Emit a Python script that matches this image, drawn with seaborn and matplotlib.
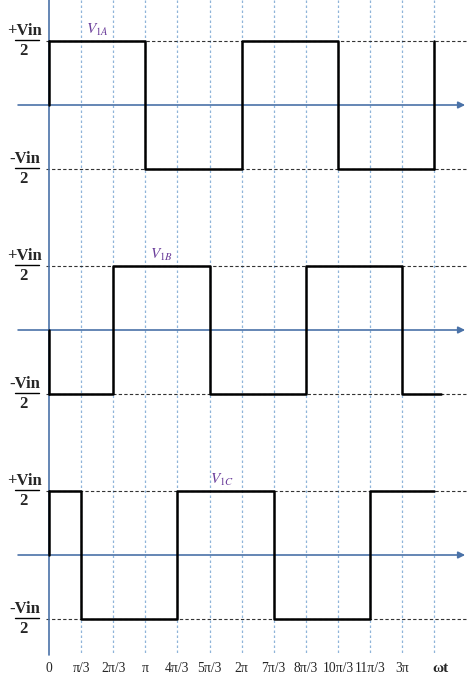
import matplotlib
matplotlib.use("Agg")
import matplotlib.pyplot as plt
import seaborn as sns
import numpy as np
import pandas as pd

sns.set_theme(style="white")
plt.rcParams['font.family'] = ['Liberation Serif', 'DejaVu Serif']
plt.rcParams['mathtext.fontset'] = 'stix'

# step positions in units of pi/3 and levels (+1 = +Vin/2)
edges = [0, 1, 2, 3, 4, 5, 6, 7, 8, 9, 10, 11, 12]
v1a = [1, 1, 1, -1, -1, -1, 1, 1, 1, -1, -1, -1]
v1b = [-1, -1, 1, 1, 1, -1, -1, -1, 1, 1, 1, -1]
v1c = [1, -1, -1, -1, 1, 1, 1, -1, -1, -1, 1, 1]
names = ["$V_{1A}$", "$V_{1B}$", "$V_{1C}$"]
name_x = [1.5, 3.5, 5.4]
tick_labels = ["0", "π/3", "2π/3", "π", "4π/3", "5π/3", "2π", "7π/3",
               "8π/3", "10π/3", "11π/3", "3π"]
extra_label = "ωt"

centers = [105, 330, 555]
amp = 64
unit = 32.1
x0px = 49

fig = plt.figure(figsize=(4.74, 6.90), dpi=100)
ax = fig.add_axes([0, 0, 1, 1])
ax.set_xlim(-x0px / unit, (474 - x0px) / unit)
ax.set_ylim(690, 0)
ax.axis("off")

for e in edges[1:]:
    ax.plot([e, e], [0, 655], ls=(0, (2, 2)), color="#8fb4d9", lw=0.9, zorder=1)
ax.plot([0, 0], [0, 655], color="#4a72a8", lw=1.2, zorder=2)

last_ext = [12.0, 12.2, 12.0]
for wave, c, nm, nx, lx in zip([v1a, v1b, v1c], centers, names, name_x, last_ext):
    ax.plot([-0.1, 13.0], [c - amp, c - amp], ls=(0, (3, 2)), color="#333333", lw=0.8, zorder=1)
    ax.plot([-0.1, 13.0], [c + amp, c + amp], ls=(0, (3, 2)), color="#333333", lw=0.8, zorder=1)
    ax.annotate("", xy=(13.05, c), xytext=(-1.05, c),
                arrowprops=dict(arrowstyle="-|>", color="#4a72a8", lw=1.2, mutation_scale=10), zorder=2)
    xs = list(edges[:-1]) + [lx]
    ys = [c - amp * v for v in wave] + [c - amp * wave[-1]]
    df = pd.DataFrame({"x": xs, "y": ys})
    ax.step(df["x"], df["y"], where="post", color="black", lw=1.8, zorder=3)
    ax.plot([0, 0], [c, ys[0]], color="black", lw=1.8, zorder=3)
    if nm == "$V_{1A}$":
        ax.plot([12, 12], [c - amp, c + amp], color="black", lw=1.8, zorder=3)
    ax.text(nx, c - amp - 3, nm, color="#6a3d9a", fontsize=11, ha="center", va="bottom")
    for sgn, yy in [("+Vin", c - amp), ("-Vin", c + amp)]:
        ax.text(-0.75, yy - 2, sgn, fontsize=12, fontweight="bold", ha="center", va="bottom")
        ax.plot([-1.05, -0.3], [yy - 1, yy - 1], color="black", lw=1.0)
        ax.text(-0.8, yy + 2, "2", fontsize=12, fontweight="bold", ha="center", va="top")

for i, lab in enumerate(tick_labels):
    ax.text(i, 668, lab, fontsize=9.8, ha="center", va="center")
ax.text(12.2, 668, extra_label, fontsize=11, fontweight="bold", ha="center", va="center")

fig.savefig("out.png", dpi=100)
